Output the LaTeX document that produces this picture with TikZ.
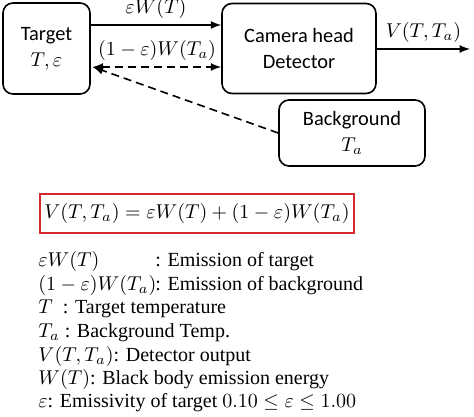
\documentclass[tikz,border=0pt]{standalone}
\usepackage{amsmath,amssymb}
\usepackage{fontspec}
\setmainfont{Liberation Serif}
\setsansfont{Carlito}
\usetikzlibrary{arrows,positioning}
\definecolor{boxred}{RGB}{214,40,44}

\begin{document}
\begin{tikzpicture}[x=0.5pt,y=-0.5pt,>=latex,
    blk/.style={draw, line width=0.8pt, rounded corners=5pt, align=center,
      inner sep=0pt, font=\sffamily\fontsize{10.2}{13}\selectfont},
    lbl/.style={inner sep=1pt, font=\fontsize{10}{12}\selectfont},
    flow/.style={line width=0.8pt},
    back/.style={line width=0.8pt, dash pattern=on 4pt off 2.5pt},
    txt/.style={anchor=base west, inner sep=0pt, font=\fontsize{10}{12}\selectfont}]
  \useasboundingbox (0,0) rectangle (474,416);

  % blocks
  \node[blk, minimum width=43.5pt, minimum height=45.5pt] (target) at (46.5,48.5) {Target\\$T,\varepsilon$};
  \node[blk, minimum width=77pt, minimum height=45pt] (cam) at (299,48.5) {Camera head\\Detector};
  \node[blk, minimum width=73pt, minimum height=33pt] (bg) at (352,133) {Background\\$T_a$};
  \coordinate (out) at (470,49);

  % signals
  \draw[flow,->] ([yshift=11.75pt]target.east) -- ([yshift=11.75pt]cam.west)
    node[lbl, midway, above=2pt] (lemit) {$\varepsilon W(T)$};
  \draw[back,<->] ([xshift=1pt,yshift=-9.25pt]target.east) -- ([yshift=-9.25pt]cam.west)
    node[lbl, midway, above=2pt] (lrefl) {$(1-\varepsilon)W(T_a)$};
  \draw[back,->] (bg.west) -- ([xshift=1pt,yshift=-9.25pt]target.east);
  \draw[flow,->] (cam.east |- out) -- (out)
    node[lbl, midway, above=2pt] (lout) {$V(T,T_a)$};

  % equation
  \node[draw=boxred, line width=0.8pt, minimum width=157pt, minimum height=19.5pt, lbl] (eq)
    at (197,213.5) {$V(T,T_a)=\varepsilon W(T)+(1-\varepsilon)W(T_a)$};

  % legend
  \node[txt] (k1) at (38,266) {$\varepsilon W(T)$};
  \node[txt] (d1) at (155,266) {: Emission of target};
  \node[txt] (k2) at (38,290) {$(1-\varepsilon)W(T_a)$};
  \node[txt] (d2) at (155,290) {: Emission of background};
  \node[txt] (l3) at (38,313) {$T$\ \ : Target temperature};
  \node[txt] (l4) at (38,337) {$T_a$ : Background Temp.};
  \node[txt] (l5) at (38,361) {$V(T,T_a)$: Detector output};
  \node[txt] (l6) at (38,384) {$W(T)$: Black body emission energy};
  \node[txt] (l7) at (38,407) {$\varepsilon$: Emissivity of target $0.10\leq\varepsilon\leq1.00$};
\end{tikzpicture}
\end{document}
